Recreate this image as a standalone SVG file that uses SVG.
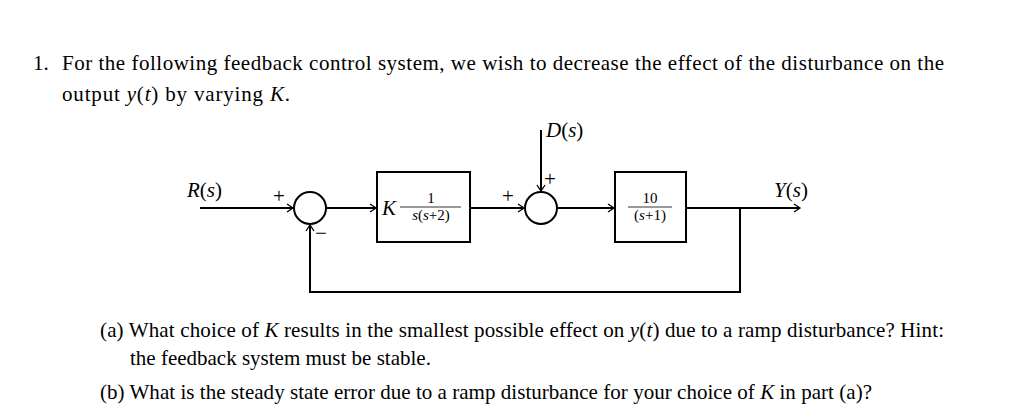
<svg xmlns="http://www.w3.org/2000/svg" width="1013" height="410" viewBox="0 0 1013 410">
<defs><marker id="a" markerWidth="10" markerHeight="10" refX="8" refY="5" orient="auto" markerUnits="userSpaceOnUse"><path d="M2,1 L8,5 L2,9" fill="none" stroke="#000" stroke-width="1.3"/></marker></defs>
<style>text{font-family:"Liberation Serif",serif;fill:#000}.t{font-size:21px}.m{font-style:italic}.l{stroke:#000;stroke-width:2;fill:none}.s{font-size:15px}</style>
<rect width="1013" height="410" fill="#fff"/>
<text class="t" x="33" y="70">1.</text>
<text class="t" x="62" y="70" textLength="882" lengthAdjust="spacing">For the following feedback control system, we wish to decrease the effect of the disturbance on the</text>
<text class="t" x="62" y="101" textLength="228" lengthAdjust="spacing">output <tspan class="m">y</tspan>(<tspan class="m">t</tspan>) by varying <tspan class="m">K</tspan>.</text>
<g id="conn">
<path class="l" d="M200,208 H293" marker-end="url(#a)"/>
<path class="l" d="M325,208 H376" marker-end="url(#a)"/>
<path class="l" d="M470,208 H524" marker-end="url(#a)"/>
<path class="l" d="M541,130 V191" marker-end="url(#a)"/>
<path class="l" d="M558,208 H614" marker-end="url(#a)"/>
<path class="l" d="M686,208 H800" marker-end="url(#a)"/>
<path class="l" d="M740,208 V292 H310 V225" marker-end="url(#a)"/>
</g>
<g id="sum1"><circle class="l" cx="310" cy="208" r="16"/><text class="t" x="273" y="203">+</text><text class="t" x="315" y="240">−</text></g>
<g id="sum2"><circle class="l" cx="541" cy="208" r="16"/><text class="t" x="502" y="203">+</text><text class="t" x="544" y="186">+</text></g>
<g id="b1"><rect class="l" x="377" y="172" width="93" height="70"/><text class="t m" x="382" y="215" font-size="22">K</text><text class="s" x="431" y="203" text-anchor="middle">1</text><line x1="400" y1="207" x2="461" y2="207" stroke="#000" stroke-width="0.8"/><text class="s" x="431" y="220" text-anchor="middle"><tspan class="m">s</tspan>(<tspan class="m">s</tspan>+2)</text></g>
<g id="b2"><rect class="l" x="615" y="172" width="71" height="70"/><text class="s" x="650" y="203" text-anchor="middle">10</text><line x1="628" y1="207" x2="672" y2="207" stroke="#000" stroke-width="0.8"/><text class="s" x="650" y="220" text-anchor="middle">(<tspan class="m">s</tspan>+1)</text></g>
<text class="t" x="187" y="197"><tspan class="m">R</tspan>(<tspan class="m">s</tspan>)</text>
<text class="t" x="546" y="137"><tspan class="m">D</tspan>(<tspan class="m">s</tspan>)</text>
<text class="t" x="774" y="197"><tspan class="m">Y</tspan>(<tspan class="m">s</tspan>)</text>
<text class="t" x="100" y="337" textLength="844" lengthAdjust="spacing">(a)  What choice of <tspan class="m">K</tspan> results in the smallest possible effect on <tspan class="m">y</tspan>(<tspan class="m">t</tspan>) due to a ramp disturbance? Hint:</text>
<text class="t" x="130" y="365">the feedback system must be stable.</text>
<text class="t" x="100" y="399" textLength="772" lengthAdjust="spacing">(b)  What is the steady state error due to a ramp disturbance for your choice of <tspan class="m">K</tspan> in part (a)?</text>
</svg>
